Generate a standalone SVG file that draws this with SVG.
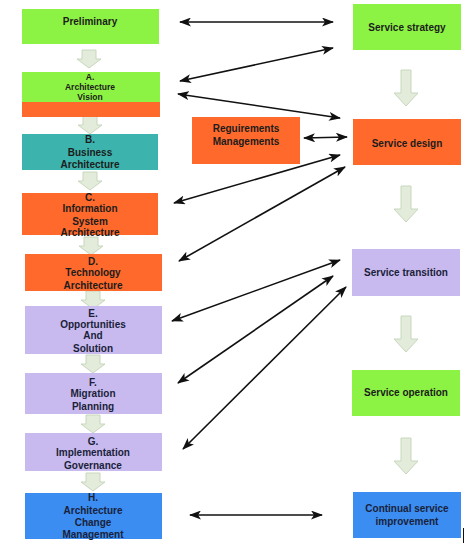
<svg xmlns="http://www.w3.org/2000/svg" width="474" height="545" viewBox="0 0 474 545">
<defs>
<style>
.t{font-family:"Liberation Sans",Arial,sans-serif;font-weight:bold;font-size:10px;fill:#1c1c1c;text-anchor:middle;dominant-baseline:central}
.s{font-size:8.5px}
.n{fill:#1a1f3a}
.g{fill:#8CF244}
.o{fill:#FF6A2C}
.tl{fill:#3DB3AD}
.l{fill:#C8B9EE}
.b{fill:#3B8DF1}
.da{fill:#E3ECDA;stroke:#C9D6BE;stroke-width:1}
.c{stroke:#111;stroke-width:1.6;fill:none;marker-start:url(#ah);marker-end:url(#ah)}
</style>
<marker id="ah" viewBox="0 0 12 9" refX="11" refY="4.5" markerWidth="12" markerHeight="9" markerUnits="userSpaceOnUse" orient="auto-start-reverse">
<path d="M0,0 L12,4.5 L0,9 L3,4.5 Z" fill="#111"/>
</marker>
<path id="dl" d="M-7,0 H7 V9 H12 L0,18 L-12,9 H-7 Z"/>
<path id="dr" d="M-5,0 H5 V23 H12 L0,36 L-12,23 H-5 Z"/>
</defs>
<rect width="474" height="545" fill="#fff"/>

<g id="flow-arrows">
<use href="#dl" class="da" x="89" y="50"/>
<use href="#dl" class="da" x="90" y="116"/>
<use href="#dl" class="da" x="90" y="172"/>
<use href="#dl" class="da" x="91" y="237"/>
<use href="#dl" class="da" x="93" y="291"/>
<use href="#dl" class="da" x="93" y="355"/>
<use href="#dl" class="da" x="93" y="415"/>
<use href="#dl" class="da" x="93" y="473"/>
<use href="#dr" class="da" x="406" y="70"/>
<use href="#dr" class="da" x="406" y="186"/>
<use href="#dr" class="da" x="406" y="316"/>
<use href="#dr" class="da" x="406" y="438"/>
</g>

<g id="preliminary">
<rect class="g" x="22" y="9" width="137" height="35"/>
<text class="t" x="90" y="21">Preliminary</text>
</g>
<g id="a-vision">
<rect class="g" x="22" y="72" width="138" height="31"/>
<rect class="o" x="22" y="102" width="138" height="15"/>
<text class="t s" x="90" y="77">A.</text>
<text class="t s" x="90" y="87">Architecture</text>
<text class="t s" x="90" y="97">Vision</text>
</g>
<g id="b-business">
<rect class="tl" x="22" y="134" width="136" height="36"/>
<text class="t" x="90" y="139">B.</text>
<text class="t" x="90" y="152">Business</text>
<text class="t" x="90" y="164">Architecture</text>
</g>
<g id="c-info">
<rect class="o" x="22" y="193" width="136" height="42"/>
<text class="t" x="90" y="197">C.</text>
<text class="t" x="90" y="208">Information</text>
<text class="t" x="90" y="221">System</text>
<text class="t" x="90" y="232">Architecture</text>
</g>
<g id="d-tech">
<rect class="o" x="25" y="254" width="137" height="37"/>
<text class="t" x="93" y="261">D.</text>
<text class="t" x="93" y="272">Technology</text>
<text class="t" x="93" y="285">Architecture</text>
</g>
<g id="e-opp">
<rect class="l" x="25" y="306" width="137" height="48"/>
<text class="t n" x="93" y="313">E.</text>
<text class="t n" x="93" y="324">Opportunities</text>
<text class="t n" x="93" y="335">And</text>
<text class="t n" x="93" y="348">Solution</text>
</g>
<g id="f-migration">
<rect class="l" x="25" y="373" width="137" height="41"/>
<text class="t n" x="93" y="382">F.</text>
<text class="t n" x="93" y="393">Migration</text>
<text class="t n" x="93" y="406">Planning</text>
</g>
<g id="g-impl">
<rect class="l" x="25" y="433" width="137" height="38"/>
<text class="t n" x="93" y="441">G.</text>
<text class="t n" x="93" y="452">Implementation</text>
<text class="t n" x="93" y="465">Governance</text>
</g>
<g id="h-change">
<rect class="b" x="25" y="493" width="137" height="46"/>
<text class="t n" x="93" y="497">H.</text>
<text class="t n" x="93" y="510">Architecture</text>
<text class="t n" x="93" y="522">Change</text>
<text class="t n" x="93" y="534">Management</text>
</g>

<g id="requirements">
<rect class="o" x="192" y="117" width="108" height="47"/>
<text class="t" x="246" y="128">Reguirements</text>
<text class="t" x="246" y="141">Managements</text>
</g>

<g id="service-strategy">
<rect class="g" x="353" y="4" width="108" height="46"/>
<text class="t" x="407" y="27">Service strategy</text>
</g>
<g id="service-design">
<rect class="o" x="353" y="119" width="108" height="46"/>
<text class="t" x="407" y="143">Service design</text>
</g>
<g id="service-transition">
<rect class="l" x="352" y="249" width="108" height="47"/>
<text class="t n" x="406" y="272">Service transition</text>
</g>
<g id="service-operation">
<rect class="g" x="352" y="370" width="108" height="46"/>
<text class="t" x="406" y="392">Service operation</text>
</g>
<g id="continual-improvement">
<rect class="b" x="353" y="492" width="108" height="46"/>
<text class="t n" x="407" y="508">Continual service</text>
<text class="t n" x="407" y="521">improvement</text>
</g>
<line x1="463.5" y1="528" x2="463.5" y2="543" stroke="#111" stroke-width="1"/>

<g id="connectors">
<line class="c" x1="180" y1="22" x2="333" y2="22"/>
<line class="c" x1="180" y1="81" x2="333" y2="48"/>
<line class="c" x1="178" y1="94" x2="340" y2="118"/>
<line class="c" x1="304" y1="138" x2="347" y2="137"/>
<line class="c" x1="174" y1="203" x2="340" y2="155"/>
<line class="c" x1="179" y1="261" x2="345" y2="167"/>
<line class="c" x1="172" y1="321" x2="340" y2="260"/>
<line class="c" x1="178" y1="383" x2="333" y2="276"/>
<line class="c" x1="183" y1="449" x2="346" y2="287"/>
<line class="c" x1="190" y1="515" x2="322" y2="515"/>
</g>
</svg>
